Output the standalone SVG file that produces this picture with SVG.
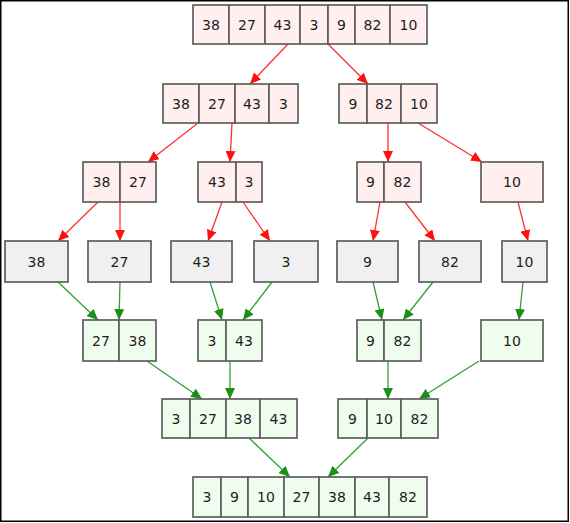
<svg xmlns="http://www.w3.org/2000/svg" width="570" height="523" viewBox="0 0 570 523">
<defs>
<style>
.c{stroke:#5e5e5e;stroke-width:1.7}
.p{fill:#ffefef}
.g{fill:#f0f0f0}
.q{fill:#effdef}
text{font-family:"DejaVu Sans",sans-serif;font-size:14px;fill:#1e1e1e;text-anchor:middle}
.r{stroke:#ff3030;stroke-width:1.3;fill:none;marker-end:url(#ar)}
.k{stroke:#33a033;stroke-width:1.3;fill:none;marker-end:url(#ag)}
</style>
<marker id="ar" markerUnits="userSpaceOnUse" markerWidth="12" markerHeight="10" refX="11" refY="5" orient="auto"><path d="M0,0 L11,5 L0,10 z" fill="#ff1010"/></marker>
<marker id="ag" markerUnits="userSpaceOnUse" markerWidth="12" markerHeight="10" refX="11" refY="5" orient="auto"><path d="M0,0 L11,5 L0,10 z" fill="#1a901a"/></marker>
</defs>
<rect x="0.75" y="0.75" width="567.5" height="520.5" fill="#fff" stroke="#000" stroke-width="1.5"/>
<g id="connectors">
<line class="r" x1="288" y1="44" x2="250" y2="84"/>
<line class="r" x1="328" y1="44" x2="368" y2="84"/>
<line class="r" x1="198" y1="123" x2="148" y2="162"/>
<line class="r" x1="232" y1="123" x2="230" y2="162"/>
<line class="r" x1="388" y1="123" x2="388" y2="162"/>
<line class="r" x1="418" y1="123" x2="482" y2="162"/>
<line class="r" x1="98" y1="202" x2="58" y2="241"/>
<line class="r" x1="120" y1="202" x2="120" y2="241"/>
<line class="r" x1="222" y1="202" x2="208" y2="241"/>
<line class="r" x1="243" y1="202" x2="270" y2="241"/>
<line class="r" x1="380" y1="202" x2="373" y2="241"/>
<line class="r" x1="405" y1="202" x2="435" y2="241"/>
<line class="r" x1="518" y1="202" x2="528" y2="241"/>
<line class="k" x1="58" y1="282" x2="98" y2="320"/>
<line class="k" x1="120" y1="282" x2="119" y2="320"/>
<line class="k" x1="210" y1="282" x2="222" y2="320"/>
<line class="k" x1="272" y1="282" x2="243" y2="320"/>
<line class="k" x1="373" y1="282" x2="382" y2="320"/>
<line class="k" x1="433" y1="282" x2="403" y2="320"/>
<line class="k" x1="523" y1="282" x2="519" y2="320"/>
<line class="k" x1="147" y1="361" x2="202" y2="399"/>
<line class="k" x1="230" y1="361" x2="230" y2="399"/>
<line class="k" x1="388" y1="361" x2="388" y2="399"/>
<line class="k" x1="479" y1="361" x2="419" y2="399"/>
<line class="k" x1="249" y1="438" x2="290" y2="477"/>
<line class="k" x1="368" y1="438" x2="328" y2="477"/>
</g>
<g id="n0">
<rect class="c p" x="193" y="5" width="36" height="39"/><rect class="c p" x="229" y="5" width="36" height="39"/><rect class="c p" x="265" y="5" width="35" height="39"/><rect class="c p" x="300" y="5" width="28" height="39"/><rect class="c p" x="328" y="5" width="27" height="39"/><rect class="c p" x="355" y="5" width="35" height="39"/><rect class="c p" x="390" y="5" width="37" height="39"/>
<text x="211" y="29.5">38</text><text x="247" y="29.5">27</text><text x="282.5" y="29.5">43</text><text x="314" y="29.5">3</text><text x="341.5" y="29.5">9</text><text x="372.5" y="29.5">82</text><text x="408.5" y="29.5">10</text>
</g>
<g id="n1">
<rect class="c p" x="163" y="84" width="36" height="39"/><rect class="c p" x="199" y="84" width="36" height="39"/><rect class="c p" x="235" y="84" width="34" height="39"/><rect class="c p" x="269" y="84" width="29" height="39"/>
<text x="181" y="108.5">38</text><text x="217" y="108.5">27</text><text x="252" y="108.5">43</text><text x="283.5" y="108.5">3</text>
</g>
<g id="n2">
<rect class="c p" x="339" y="84" width="28" height="39"/><rect class="c p" x="367" y="84" width="34" height="39"/><rect class="c p" x="401" y="84" width="36" height="39"/>
<text x="353" y="108.5">9</text><text x="384" y="108.5">82</text><text x="419" y="108.5">10</text>
</g>
<g id="n3">
<rect class="c p" x="83" y="162" width="37" height="40"/><rect class="c p" x="120" y="162" width="36" height="40"/>
<text x="101.5" y="187">38</text><text x="138" y="187">27</text>
</g>
<g id="n4">
<rect class="c p" x="198" y="162" width="38" height="40"/><rect class="c p" x="236" y="162" width="26" height="40"/>
<text x="217" y="187">43</text><text x="249" y="187">3</text>
</g>
<g id="n5">
<rect class="c p" x="357" y="162" width="27" height="40"/><rect class="c p" x="384" y="162" width="37" height="40"/>
<text x="370.5" y="187">9</text><text x="402.5" y="187">82</text>
</g>
<g id="n6">
<rect class="c p" x="481" y="162" width="62" height="40"/>
<text x="512" y="187">10</text>
</g>
<g id="n7"><rect class="c g" x="5" y="241" width="63" height="41"/><text x="36.5" y="266.5">38</text></g>
<g id="n8"><rect class="c g" x="88" y="241" width="63" height="41"/><text x="119.5" y="266.5">27</text></g>
<g id="n9"><rect class="c g" x="171" y="241" width="61" height="41"/><text x="201.5" y="266.5">43</text></g>
<g id="n10"><rect class="c g" x="254" y="241" width="64" height="41"/><text x="286" y="266.5">3</text></g>
<g id="n11"><rect class="c g" x="337" y="241" width="61" height="41"/><text x="367.5" y="266.5">9</text></g>
<g id="n12"><rect class="c g" x="419" y="241" width="62" height="41"/><text x="450" y="266.5">82</text></g>
<g id="n13"><rect class="c g" x="502" y="241" width="45" height="41"/><text x="524.5" y="266.5">10</text></g>
<g id="n14">
<rect class="c q" x="83" y="320" width="36" height="41"/><rect class="c q" x="119" y="320" width="37" height="41"/>
<text x="101" y="345.5">27</text><text x="137.5" y="345.5">38</text>
</g>
<g id="n15">
<rect class="c q" x="198" y="320" width="28" height="41"/><rect class="c q" x="226" y="320" width="36" height="41"/>
<text x="212" y="345.5">3</text><text x="244" y="345.5">43</text>
</g>
<g id="n16">
<rect class="c q" x="357" y="320" width="27" height="41"/><rect class="c q" x="384" y="320" width="37" height="41"/>
<text x="370.5" y="345.5">9</text><text x="402.5" y="345.5">82</text>
</g>
<g id="n17">
<rect class="c q" x="481" y="320" width="62" height="41"/>
<text x="512" y="345.5">10</text>
</g>
<g id="n18">
<rect class="c q" x="162" y="399" width="28" height="39"/><rect class="c q" x="190" y="399" width="36" height="39"/><rect class="c q" x="226" y="399" width="34" height="39"/><rect class="c q" x="260" y="399" width="37" height="39"/>
<text x="176" y="423.5">3</text><text x="208" y="423.5">27</text><text x="243" y="423.5">38</text><text x="278.5" y="423.5">43</text>
</g>
<g id="n19">
<rect class="c q" x="338" y="399" width="29" height="39"/><rect class="c q" x="367" y="399" width="34" height="39"/><rect class="c q" x="401" y="399" width="37" height="39"/>
<text x="352.5" y="423.5">9</text><text x="384" y="423.5">10</text><text x="419.5" y="423.5">82</text>
</g>
<g id="n20">
<rect class="c q" x="193" y="477" width="28" height="40"/><rect class="c q" x="221" y="477" width="27" height="40"/><rect class="c q" x="248" y="477" width="36" height="40"/><rect class="c q" x="284" y="477" width="35" height="40"/><rect class="c q" x="319" y="477" width="36" height="40"/><rect class="c q" x="355" y="477" width="34" height="40"/><rect class="c q" x="389" y="477" width="38" height="40"/>
<text x="207" y="502">3</text><text x="234.5" y="502">9</text><text x="266" y="502">10</text><text x="301.5" y="502">27</text><text x="337" y="502">38</text><text x="372" y="502">43</text><text x="408" y="502">82</text>
</g>
</svg>
